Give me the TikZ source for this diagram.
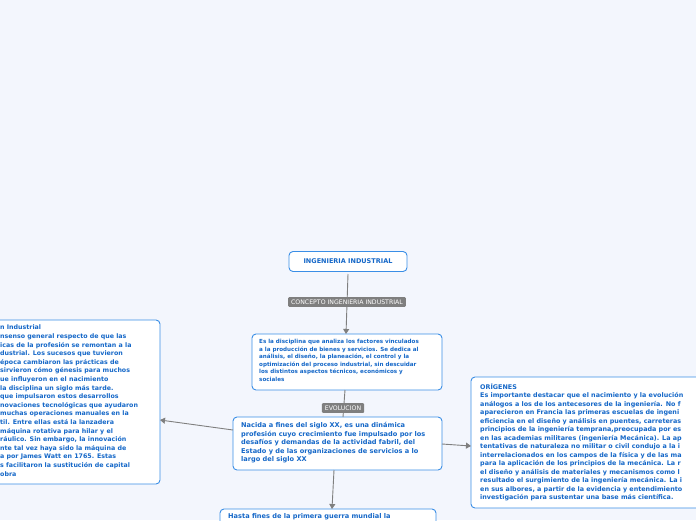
\documentclass[tikz,border=0pt]{standalone}
\usepackage{fontspec}
\setmainfont{DejaVu Sans}
\usetikzlibrary{arrows.meta}
\definecolor{bg}{HTML}{F3F6FD}
\definecolor{bl}{HTML}{3A8EE6}
\definecolor{tx}{HTML}{1467C8}
\definecolor{gl}{HTML}{7F7F7F}
\tikzset{
 box/.style={draw=bl,line width=0.9pt,fill=white,rounded corners=4pt,inner sep=0pt},
 txt/.style={text=tx,font=\bfseries\fontsize{6.6}{8.6}\selectfont,align=left,inner sep=0pt,anchor=north west},
 lab/.style={fill=gl,text=white,font=\fontsize{6.2}{7}\selectfont,inner xsep=3pt,inner ysep=2.5pt,rounded corners=1pt},
 con/.style={draw=gl,line width=0.9pt,-{Triangle[length=5pt,width=6pt]}}
}
\begin{document}
\begin{tikzpicture}[x=1pt,y=-1pt]
\useasboundingbox (0,0) rectangle (696,520);
\clip (0,0) rectangle (696,520);
\fill[bg] (0,0) rectangle (696,520);
\node[box,minimum width=118,minimum height=20] (top) at (348,261.5) {};
\node[text=tx,font=\bfseries\fontsize{6.5}{8}\selectfont] at (top) {INGENIERIA INDUSTRIAL};
\draw[box] (252,334) rectangle (442,390); \coordinate (b2t) at (346,334); \coordinate (b2b) at (345,390);
\node[txt,font=\bfseries\fontsize{5.6}{7.6}\selectfont] at (259,339) {Es la disciplina que analiza los factores vinculados\\a la producción de bienes y servicios. Se dedica al\\análisis, el diseño, la planeación, el control y la\\optimización del proceso industrial, sin descuidar\\los distintos aspectos técnicos, económicos y\\sociales};
\draw[box] (233,417) rectangle (442,470);
\node[txt] at (241,422) {Nacida a fines del siglo XX, es una dinámica\\profesión cuyo crecimiento fue impulsado por los\\desafíos y demandas de la actividad fabril, del\\Estado y de las organizaciones de servicios a lo\\largo del siglo XX};
\draw[box] (-10,320) rectangle (160,484);
\node[txt,font=\bfseries\fontsize{6.3}{8.6}\selectfont] at (0,325) {n Industrial\\nsenso general respecto de que las\\icas de la profesión se remontan a la\\dustrial. Los sucesos que tuvieron\\ época cambiaron las prácticas de\\ sirvieron cómo génesis para muchos\\ue influyeron en el nacimiento\\la disciplina un siglo más tarde.\\que impulsaron estos desarrollos\\novaciones tecnológicas que ayudaron\\muchas operaciones manuales en la\\til. Entre ellas está la lanzadera\\máquina rotativa para hilar y el\\ráulico. Sin embargo, la innovación\\nte tal vez haya sido la máquina de\\a por James Watt en 1765. Estas\\s facilitaron la sustitución de capital\\ obra};
\draw[box] (471,377) rectangle (720,508);
\node[txt,font=\bfseries\fontsize{6.4}{8.5}\selectfont] at (480,383) {ORÍGENES\\Es importante destacar que el nacimiento y la evolución\\análogos a los de los antecesores de la ingeniería. No f\\aparecieron en Francia las primeras escuelas de ingeni\\eficiencia en el diseño y análisis en puentes, carreteras\\principios de la ingeniería temprana,preocupada por es\\en las academias militares (ingeniería Mecánica). La ap\\tentativas de naturaleza no militar o civil condujo a la i\\interrelacionados en los campos de la física y de las ma\\para la aplicación de los principios de la mecánica. La r\\el diseño y análisis de materiales y mecanismos como l\\resultado el surgimiento de la ingeniería mecánica. La i\\en sus albores, a partir de la evidencia y entendimiento\\investigación para sustentar una base más científica.};
\draw[box] (220,509) rectangle (436,540);
\node[txt] at (228,513) {Hasta fines de la primera guerra mundial la};
\coordinate (b3t) at (343,417); \coordinate (b3l) at (233,430); \coordinate (b3r) at (442,444); \coordinate (b3b) at (334,470);
\coordinate (lb) at (160,420); \coordinate (rb) at (471,446); \coordinate (bb) at (332,509);
\draw[con] (348,274) -- (b2t);
\node[lab] at (347,302) {CONCEPTO INGENIERIA INDUSTRIAL};
\draw[draw=gl,line width=0.9pt] (b2b) -- (b3t);
\node[lab] at (343,408) {EVOLUCION};
\draw[con] (b3l) -- (lb);
\draw[con] (b3r) -- (rb);
\draw[con] (b3b) -- (bb);
\end{tikzpicture}
\end{document}
